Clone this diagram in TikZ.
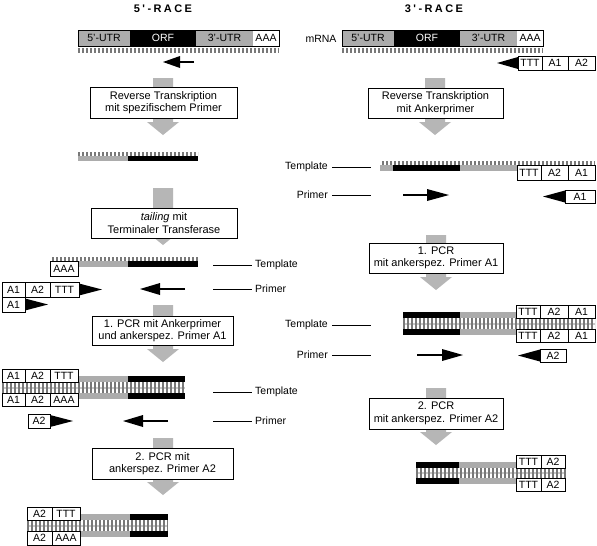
\documentclass[tikz,border=0pt]{standalone}
\usepackage{fontspec}
\setmainfont{Liberation Sans}
\newfontfamily\titlefont[LetterSpace=22]{Liberation Sans}
\definecolor{utr}{RGB}{172,172,172}
\definecolor{arrgray}{RGB}{182,182,182}
\definecolor{tickgray}{RGB}{120,120,120}
\definecolor{midgray}{RGB}{200,200,200}
\tikzset{
  cell/.style={draw=black, line width=1pt, fill=white, inner sep=0pt, font=\fontsize{10.5}{10.5}\selectfont},
  stepbox/.style={draw=black, line width=0.8pt, fill=white, inner sep=0pt, align=center, font=\fontsize{11}{12.5}\selectfont},
  lbl/.style={font=\fontsize{10.5}{12}\selectfont, inner sep=0pt},
  ttl/.style={font=\titlefont\bfseries\fontsize{11}{12}\selectfont, inner sep=0pt},
  ticks/.style={draw=tickgray, dash pattern=on 2pt off 2pt},
  lead/.style={draw=black, line width=0.8pt},
  prim/.style={draw=black, line width=1.2pt},
}
% cell: name, x1, x2, y1, y2, text
\newcommand{\cel}[6]{\node[cell, minimum width={#3pt-#2pt}, minimum height={#5pt-#4pt}] (#1) at ({(#2+#3)/2},{(#4+#5)/2}) {#6};}
% step box: name, x1, x2, y1, y2, text
\newcommand{\stp}[6]{\node[stepbox, minimum width={#3pt-#2pt}, minimum height={#5pt-#4pt}] (#1) at ({(#2+#3)/2},{(#4+#5)/2}) {#6};}
% arrowhead: tip x, y, base x
\newcommand{\hd}[3]{\fill[black] (#1,#2) -- (#3,#2-6) -- (#3,#2+6) -- cycle;}
% gray process arrow: cx, ytop, ytip
\newcommand{\garrow}[3]{\fill[arrgray] (#1-10,#2) -- (#1+10,#2) -- (#1+10,#3-13) -- (#1+16,#3-13) -- (#1,#3) -- (#1-16,#3-13) -- (#1-10,#3-13) -- cycle;}
% tick strand: x1, x2, y1, y2
\newcommand{\tk}[4]{\draw[ticks, line width={#4pt-#3pt}] (#1,{(#3+#4)/2}) -- (#2,{(#3+#4)/2});}
\newcommand{\dtk}[4]{\draw[midgray, line width=2pt] (#1,{(#3+#4)/2}) -- (#2,{(#3+#4)/2});\draw[ticks, line width={#4pt-#3pt}] (#1,{(#3+#4)/2}) -- (#2,{(#3+#4)/2});}
\begin{document}
\begin{tikzpicture}[x=1pt,y=-1pt]
\fill[white] (0,0) rectangle (597,546);
\useasboundingbox (0,0) rectangle (597,546);

% ---------------- titles
\node[ttl] (t5) at (163,9) {5'-RACE};
\node[ttl] (t3) at (434,9) {3'-RACE};

% ================= LEFT: 5'-RACE
% mRNA
\fill[utr] (78,30) rectangle (130,46);
\fill[black] (130,30) rectangle (196,46);
\fill[utr] (196,30) rectangle (253,46);
\fill[white] (253,30) rectangle (279,46);
\draw[line width=1pt] (78,30) rectangle (279,46);
\node[lbl] (l5utr) at (104,38) {5'-UTR};
\node[lbl, text=white] (lorf) at (163,38) {ORF};
\node[lbl] (l3utr) at (224.5,38) {3'-UTR};
\node[lbl] (laaa) at (266,38) {AAA};
\tk{78}{279}{48}{53}
\node[lbl] (mrna) at (321,39) {mRNA};
% specific primer
\coordinate (p1a) at (194,62); \coordinate (p1b) at (180,62);
\draw[prim] (p1a) -- (p1b);
\hd{163}{62}{180}

\garrow{163}{78}{135}
\stp{b1}{90}{237}{87}{118}{Reverse Transkription\\mit spezifischem Primer}

% cDNA
\tk{78}{198}{152}{156}
\fill[utr] (78,156) rectangle (128,161);
\fill[black] (128,156) rectangle (198,161);

\garrow{163}{188}{245}
\stp{b2}{91}{237}{208}{238}{\textit{tailing} mit\\Terminaler Transferase}

% tailed cDNA
\tk{52}{198}{257}{261}
\fill[utr] (78,261) rectangle (128,267);
\fill[black] (128,261) rectangle (198,267);
\cel{aaa3}{50}{78}{261}{276}{AAA}
% anchor primer
\cel{a1p}{2}{25}{282}{297}{A1}
\cel{a2p}{25}{50}{282}{297}{A2}
\cel{tttp}{50}{79}{282}{297}{TTT}
\hd{102}{289.5}{79}
\cel{a1q}{2}{25}{297}{312}{A1}
\hd{48}{304.5}{25}
% reverse primer
\coordinate (r3a) at (185,289); \coordinate (r3b) at (160,289);
\draw[prim] (r3a) -- (r3b);
\hd{140}{289}{160}
% labels
\coordinate (lt3a) at (213,265); \coordinate (lt3b) at (252,265);
\draw[lead] (lt3a) -- (lt3b);
\node[lbl, anchor=west] (lt3) at (255,265) {Template};
\coordinate (lp3a) at (213,289); \coordinate (lp3b) at (252,289);
\draw[lead] (lp3a) -- (lp3b);
\node[lbl, anchor=west] (lp3) at (255,289) {Primer};

\garrow{163}{305}{362}
\stp{b3}{92}{233}{316}{345}{1. PCR mit Ankerprimer\\und ankerspez. Primer A1}

% double strand 1
\fill[utr] (78,376) rectangle (128,382);
\fill[black] (128,376) rectangle (185,382);
\fill[utr] (78,393) rectangle (128,399);
\fill[black] (128,393) rectangle (185,399);
\dtk{2}{185}{382}{393}
\cel{d1a}{2}{25}{369}{382}{A1}
\cel{d1b}{25}{50}{369}{382}{A2}
\cel{d1c}{50}{78}{369}{382}{TTT}
\cel{d1d}{2}{25}{393}{406}{A1}
\cel{d1e}{25}{50}{393}{406}{A2}
\cel{d1f}{50}{78}{393}{406}{AAA}
\coordinate (lt4a) at (213,392); \coordinate (lt4b) at (252,392);
\draw[lead] (lt4a) -- (lt4b);
\node[lbl, anchor=west] (lt4) at (255,392) {Template};
\cel{a2r}{28}{50}{414}{428}{A2}
\hd{73}{421}{50}
\coordinate (r4a) at (168,421); \coordinate (r4b) at (143,421);
\draw[prim] (r4a) -- (r4b);
\hd{123}{421}{143}
\coordinate (lp4a) at (213,421); \coordinate (lp4b) at (252,421);
\draw[lead] (lp4a) -- (lp4b);
\node[lbl, anchor=west] (lp4) at (255,421) {Primer};

\garrow{163}{438}{495}
\stp{b4}{92}{233}{448}{479}{2. PCR mit\\ankerspez. Primer A2}

% double strand 2
\fill[utr] (80,514) rectangle (130,520);
\fill[black] (130,514) rectangle (168,520);
\fill[utr] (80,531) rectangle (130,537);
\fill[black] (130,531) rectangle (168,537);
\dtk{27}{168}{520}{531}
\cel{d2a}{27}{52}{507}{520}{A2}
\cel{d2b}{52}{80}{507}{520}{TTT}
\cel{d2c}{27}{52}{531}{545}{A2}
\cel{d2d}{52}{80}{531}{545}{AAA}

% ================= RIGHT: 3'-RACE
\fill[utr] (342,30) rectangle (394,46);
\fill[black] (394,30) rectangle (460,46);
\fill[utr] (460,30) rectangle (517,46);
\fill[white] (517,30) rectangle (543,46);
\draw[line width=1pt] (342,30) rectangle (543,46);
\node[lbl] (r5utr) at (368,38) {5'-UTR};
\node[lbl, text=white] (rorf) at (427,38) {ORF};
\node[lbl] (r3utr) at (488.5,38) {3'-UTR};
\node[lbl] (raaa) at (530,38) {AAA};
\tk{342}{543}{48}{53}
% anchor primer
\hd{497}{63}{518}
\cel{ra1}{518}{542}{56}{70}{TTT}
\cel{ra2}{542}{568}{56}{70}{A1}
\cel{ra3}{568}{595}{56}{70}{A2}

\garrow{435}{78}{135}
\stp{rb1}{368}{503}{88}{118}{Reverse Transkription\\mit Ankerprimer}

% cDNA
\tk{382}{595}{161}{165}
\fill[utr] (380,165) rectangle (393,171);
\fill[black] (393,165) rectangle (460,171);
\fill[utr] (460,165) rectangle (517,171);
\cel{rc1}{517}{541}{165}{180}{TTT}
\cel{rc2}{541}{568}{165}{180}{A2}
\cel{rc3}{568}{595}{165}{180}{A1}
\coordinate (rt2a) at (332,167); \coordinate (rt2b) at (371,167);
\draw[lead] (rt2a) -- (rt2b);
\node[lbl, anchor=east] (rt2) at (328,167) {Template};
\coordinate (rp2a) at (332,195); \coordinate (rp2b) at (371,195);
\draw[lead] (rp2a) -- (rp2b);
\node[lbl, anchor=east] (rp2) at (328,195) {Primer};
\coordinate (f2a) at (403,195); \coordinate (f2b) at (427,195);
\draw[prim] (f2a) -- (f2b);
\hd{449}{195}{427}
\hd{543}{196.5}{565}
\cel{rpa1}{565}{595}{190}{203}{A1}

\garrow{436}{235}{290}
\stp{rb2}{369}{503}{243}{273}{1. PCR\\mit ankerspez. Primer A1}

% double strand 1
\fill[black] (403,312) rectangle (460,318);
\fill[utr] (460,312) rectangle (516,318);
\fill[black] (403,329) rectangle (460,335);
\fill[utr] (460,329) rectangle (516,335);
\dtk{403}{595}{318}{329}
\cel{rd1}{516}{540}{305}{318}{TTT}
\cel{rd2}{540}{568}{305}{318}{A2}
\cel{rd3}{568}{595}{305}{318}{A1}
\cel{rd4}{516}{540}{329}{342}{TTT}
\cel{rd5}{540}{568}{329}{342}{A2}
\cel{rd6}{568}{595}{329}{342}{A1}
\coordinate (rt3a) at (332,325); \coordinate (rt3b) at (371,325);
\draw[lead] (rt3a) -- (rt3b);
\node[lbl, anchor=east] (rt3) at (328,325) {Template};
\coordinate (rp3a) at (332,355); \coordinate (rp3b) at (371,355);
\draw[lead] (rp3a) -- (rp3b);
\node[lbl, anchor=east] (rp3) at (328,355) {Primer};
\coordinate (f3a) at (417,355); \coordinate (f3b) at (442,355);
\draw[prim] (f3a) -- (f3b);
\hd{463}{355}{442}
\hd{518}{355.5}{540}
\cel{rpa2}{540}{566}{349}{362}{A2}

\garrow{436}{388}{445}
\stp{rb3}{369}{503}{398}{429}{2. PCR\\mit ankerspez. Primer A2}

% double strand 2
\fill[black] (416,462) rectangle (459,468);
\fill[utr] (459,462) rectangle (516,468);
\fill[black] (416,478) rectangle (459,484);
\fill[utr] (459,478) rectangle (516,484);
\dtk{416}{566}{468}{478}
\cel{re1}{516}{541}{455}{468}{TTT}
\cel{re2}{541}{565}{455}{468}{A2}
\cel{re3}{516}{541}{478}{491}{TTT}
\cel{re4}{541}{565}{478}{491}{A2}
\end{tikzpicture}
\end{document}
